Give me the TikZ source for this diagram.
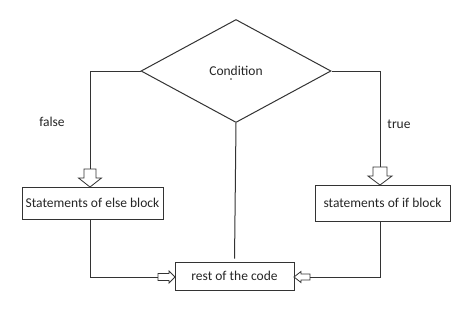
\documentclass[tikz,border=0pt]{standalone}
\usepackage{fontspec}
\setmainfont{Carlito}
\usetikzlibrary{shapes.geometric}
\tikzset{
    box/.style={draw=black!80, rectangle, line width=1pt, inner sep=0pt, text centered},
    decision/.style={draw=black!80, diamond, line width=1pt, inner sep=0pt, minimum width=190pt, minimum height=103pt},
    line/.style={draw=black!80, line width=1pt},
    pics/hollow/.style n args={4}{code={
        \draw [line, fill=white, line width=0.8pt, line join=miter]
            (0, -#3/2) -- ({#1-#4}, -#3/2) -- ({#1-#4}, -#2/2) -- (#1, 0)
            -- ({#1-#4}, #2/2) -- ({#1-#4}, #3/2) -- (0, #3/2) -- cycle;
        \coordinate (-tail) at (0, 0);
        \coordinate (-tip) at (#1, 0);
    }}
}

\begin{document}
\begin{tikzpicture}[x=1pt, y=-1pt, font=\fontsize{13.5}{16}\selectfont, text=black!85]
        \useasboundingbox [fill=white] (0, 0) rectangle (474, 322);

        % --- Nodes ---
        \node [decision] (cond) at (236, 71) {Condition};
        \node [box, minimum width=141pt, minimum height=32pt] (elsebox) at (92.5, 203) {Statements of else block};
        \node [box, minimum width=135pt, minimum height=36pt] (ifbox) at (382.5, 203) {statements of if block};
        \node [box, minimum width=119pt, minimum height=28pt] (rest) at (234.5, 276) {rest of the code};

        % --- Hollow arrow heads ---
        \pic [rotate=-90] (arrElse) at (90, 169) {hollow={18}{23}{12}{9}};
        \pic [rotate=-90] (arrIf) at (380, 167) {hollow={18}{24}{14}{9}};
        \pic (arrRestL) at (158, 277) {hollow={17}{12}{7}{6}};
        \pic [rotate=180] (arrRestR) at (310, 277) {hollow={16}{11}{6}{7}};

        % --- Main Flow ---
        \draw [line] (cond.west) -| (arrElse-tail);
        \draw [line] (cond.east) -| (arrIf-tail);
        \draw [line, shorten >=3pt] (cond.south) -- (rest.north);

        % --- Back to the rest ---
        \draw [line] (elsebox.south -| arrElse-tail) |- (arrRestL-tail);
        \draw [line] (ifbox.south -| arrIf-tail) |- (arrRestR-tail);

        % --- Labels ---
        \node (false) at (52, 122) {false};
        \node (true) at (399, 124) {true};
        \fill [black!80] (231, 79) circle (0.8);

    \end{tikzpicture}
\end{document}
